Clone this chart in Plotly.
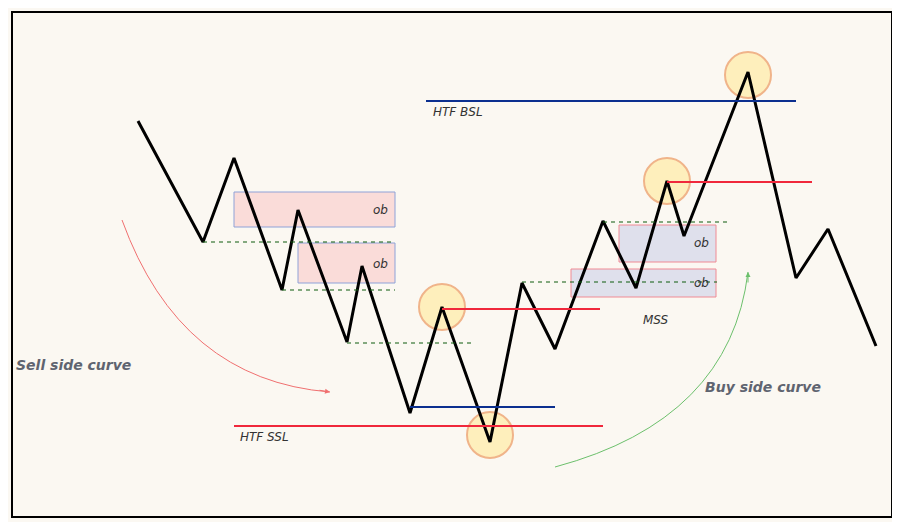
import plotly.graph_objects as go

# price path (chart pixel units, y grows downward)
path_x = [138, 203, 234, 282, 298, 347, 362, 410, 442, 490, 522, 555, 603, 636, 667, 684, 748, 796, 828, 876]
path_y = [121, 242, 158, 290, 210, 342, 266, 413, 307, 442, 283, 349, 221, 288, 181, 236, 72, 278, 229, 346]

# solid levels: x0, x1, y, colour
levels = [(426, 796, 101, '#0b2f8f'), (667, 812, 182, '#f0283c'), (442, 600, 309, '#f0283c'),
          (410, 555, 407, '#0b2f8f'), (234, 603, 426, '#f0283c')]
# dashed liquidity lines
dashes = [(203, 395, 242), (282, 395, 290), (347, 473, 343), (603, 730, 222), (522, 717, 282)]
# order blocks: x0, y0, x1, y1
ob_sell = [(234, 192, 395, 227), (298, 243, 395, 283)]
ob_buy = [(619, 225, 716, 262), (571, 269, 716, 297)]
circles = [(442, 307), (490, 435), (667, 181), (748, 75)]

fig = go.Figure()
shapes = [dict(type='rect', x0=12, y0=12, x1=892, y1=517, line=dict(color='black', width=2), layer='below')]
for x0, y0, x1, y1 in ob_sell:
    shapes.append(dict(type='rect', x0=x0, y0=y0, x1=x1, y1=y1, fillcolor='#fadcd9',
                       line=dict(color='#8ea2d8', width=1), layer='below'))
for x0, y0, x1, y1 in ob_buy:
    shapes.append(dict(type='rect', x0=x0, y0=y0, x1=x1, y1=y1, fillcolor='#dfe0ec',
                       line=dict(color='#f08a94', width=1), layer='below'))
for cx, cy in circles:
    shapes.append(dict(type='circle', x0=cx - 23, y0=cy - 23, x1=cx + 23, y1=cy + 23,
                       fillcolor='rgba(255,236,170,0.75)', line=dict(color='#f0b48a', width=2), layer='below'))
for x0, x1, y, c in levels:
    shapes.append(dict(type='line', x0=x0, x1=x1, y0=y, y1=y, line=dict(color=c, width=2)))
for x0, x1, y in dashes:
    shapes.append(dict(type='line', x0=x0, x1=x1, y0=y, y1=y, line=dict(color='#0d5a0d', width=1, dash='4px,4px')))
# curves
shapes.append(dict(type='path', path='M 122 220 Q 180 380 330 392', line=dict(color='#f07070', width=1)))
shapes.append(dict(type='path', path='M 555 467 Q 730 420 748 272', line=dict(color='#6cc06c', width=1)))

fig.add_trace(go.Scatter(x=path_x, y=path_y, mode='lines', line=dict(color='black', width=3),
                         hoverinfo='skip'))

ann = [
    dict(x=431, y=112, text='HTF BSL', xanchor='left'),
    dict(x=238, y=437, text='HTF SSL', xanchor='left'),
    dict(x=641, y=320, text='MSS', xanchor='left'),
    dict(x=390, y=210, text='ob', xanchor='right'),
    dict(x=390, y=264, text='ob', xanchor='right'),
    dict(x=711, y=243, text='ob', xanchor='right'),
    dict(x=711, y=283, text='ob', xanchor='right'),
]
annotations = [dict(a, text='<i>' + a['text'] + '</i>', showarrow=False,
                    font=dict(family='DejaVu Sans', size=12, color='#333')) for a in ann]
annotations += [
    dict(x=14, y=365, text='<b><i>Sell side curve</i></b>', xanchor='left', showarrow=False,
         font=dict(family='DejaVu Sans', size=14, color='#5f6470')),
    dict(x=703, y=387, text='<b><i>Buy side curve</i></b>', xanchor='left', showarrow=False,
         font=dict(family='DejaVu Sans', size=14, color='#5f6470')),
    dict(x=330, y=392, ax=318, ay=390, axref='x', ayref='y', text='', showarrow=True,
         arrowhead=2, arrowcolor='#f07070', arrowwidth=1),
    dict(x=748, y=272, ax=748, ay=284, axref='x', ayref='y', text='', showarrow=True,
         arrowhead=2, arrowcolor='#6cc06c', arrowwidth=1),
]

fig.update_layout(width=900, height=522, margin=dict(l=0, r=0, t=0, b=0),
                  paper_bgcolor='#fbf8f2', plot_bgcolor='#fbf8f2', showlegend=False,
                  xaxis=dict(range=[8, 908], visible=False),
                  yaxis=dict(range=[530, 8], visible=False),
                  shapes=shapes, annotations=annotations)
fig.write_html('out.html')
